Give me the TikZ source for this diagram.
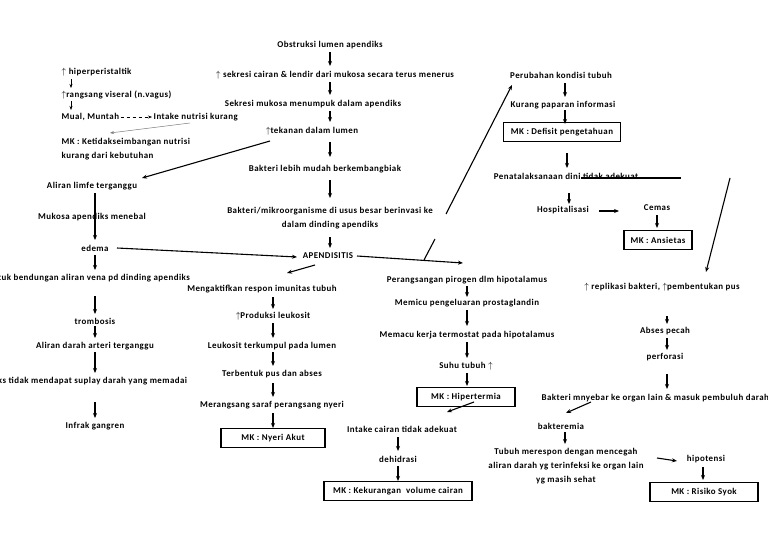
\documentclass[tikz,border=0pt]{standalone}
\usepackage{fontspec}
\setmainfont{Carlito}[LetterSpace=5]
\usetikzlibrary{arrows.meta}
\begin{document}
\begin{tikzpicture}[x=1pt,y=-1pt,
  every node/.style={font=\fontsize{8.9}{14}\selectfont\bfseries, inner sep=1.5pt, align=center},
  box/.style={draw, line width=1.3pt, minimum height=19pt, inner sep=3pt},
  ar/.style={-{Stealth[length=5pt,width=4pt]}, line width=1.1pt},
  thin/.style={-{Stealth[length=4pt,width=3pt]}, line width=0.5pt}]
\useasboundingbox (0,0) rectangle (768,543);
\clip (0,0) rectangle (768,543);
% left top
\node[anchor=west] (h1) at (60,72) {$\uparrow$ hiperperistaltik};
\node[anchor=west] (h2) at (60,95) {$\uparrow$rangsang viseral (n.vagus)};
\node[anchor=west] (h3) at (60,117) {Mual, Muntah};
\node[anchor=west] (h4) at (152,117) {Intake nutrisi kurang};
\node[anchor=west, align=left] (h5) at (60,149) {MK : Ketidakseimbangan nutrisi\\kurang dari kebutuhan};
\draw[thin] (71,79) -- (71,88);
\draw[thin] (71,101) -- (71,110);
\draw[thin, dashed] (h3) -- (h4);
\draw[thin, gray] (190,123) -- (110,133);
% center
\node (c1) at (330,45) {Obstruksi lumen apendiks};
\node (c2) at (335,75) {$\uparrow$ sekresi cairan \& lendir dari mukosa secara terus menerus};
\node (c3) at (313,104) {Sekresi mukosa menumpuk dalam apendiks};
\node (c4) at (312,131) {$\uparrow$tekanan dalam lumen};
\node (c5) at (325,169) {Bakteri lebih mudah berkembangbiak};
\node (c6) at (330,218) {Bakteri/mikroorganisme di usus besar berinvasi ke\\dalam dinding apendiks};
\node (c7) at (328,256) {APENDISITIS};
\draw[ar] (330,52) -- (330,66);
\draw[ar] (330,82) -- (330,95);
\draw[ar] (330,111) -- (330,122);
\draw[ar] (330,142) -- (330,157);
\draw[ar] (330,180) -- (330,198);
\draw[ar] (330,237) -- (330,248);
% left column
\node (l1) at (92,186) {Aliran limfe terganggu};
\node (l2) at (92,217) {Mukosa apendiks menebal};
\node (l3) at (95,248) {edema};
\node (l4) at (80,278) {Terbentuk bendungan aliran vena pd dinding apendiks};
\node (l5) at (95,321) {trombosis};
\node (l6) at (95,346) {Aliran darah arteri terganggu};
\node (l7) at (78,381) {Apendiks tidak mendapat suplay darah yang memadai};
\node (l8) at (95,426) {Infrak gangren};
\draw[ar] (270,141) -- (142,178);
\draw[ar] (95,193) -- (95,240);
\draw[ar] (95,255) -- (95,270);
\draw[ar] (95,296) -- (95,314);
\draw[ar] (95,326) -- (95,338);
\draw[ar] (95,352) -- (95,373);
\draw[ar] (95,402) -- (95,418);
\draw[ar] (117,248) -- (297,257);
% middle-left
\node (m1) at (262,289) {Mengaktifkan respon imunitas tubuh};
\node (m2) at (273,316) {$\uparrow$Produksi leukosit};
\node (m3) at (272,346) {Leukosit terkumpul pada lumen};
\node (m4) at (272,374) {Terbentuk pus dan abses};
\node (m5) at (272,405) {Merangsang saraf perangsang nyeri};
\node[box, minimum width=104pt] (m6) at (273,438) {MK : Nyeri Akut};
\draw[ar] (315,265) -- (287,273);
\draw[ar] (273,297) -- (273,309);
\draw[ar] (273,323) -- (273,338);
\draw[ar] (273,352) -- (273,366);
\draw[ar] (273,383) -- (273,397);
\draw[ar] (273,413) -- (273,428);
% middle
\node (p1) at (467,280) {Perangsangan pirogen dlm hipotalamus};
\node (p2) at (467,303) {Memicu pengeluaran prostaglandin};
\node (p3) at (467,335) {Memacu kerja termostat pada hipotalamus};
\node (p4) at (466,366) {Suhu tubuh $\uparrow$};
\node[box, minimum width=98pt] (p5) at (466,397) {MK : Hipertermia};
\node (p6) at (402,429) {Intake cairan tidak adekuat};
\node (p7) at (398,459) {dehidrasi};
\node[box, minimum width=148pt] (p8) at (398,491) {MK : Kekurangan\ \ volume cairan};
\draw[ar] (357,256) -- (463,263);
\draw[line width=1.1pt] (435,239) -- (424,260);
\draw[ar] (467,286) -- (467,297);
\draw[ar] (467,310) -- (467,326);
\draw[ar] (467,342) -- (467,358);
\draw[ar] (467,373) -- (467,386);
\draw[ar] (474,402) -- (447,412);
\draw[ar] (398,437) -- (398,451);
\draw[ar] (398,466) -- (398,481);
% right
\node (r1) at (561,75) {Perubahan kondisi tubuh};
\node (r2) at (563,105) {Kurang paparan informasi};
\node[box, minimum width=117pt] (r3) at (562,132) {MK : Defisit pengetahuan};
\node (r4) at (566,176) {Penatalaksanaan dini tidak adekuat};
\node (r5) at (563,210) {Hospitalisasi};
\node (r6) at (657,208) {Cemas};
\node[box, minimum width=68pt] (r7) at (658,240) {MK : Ansietas};
\node (r8) at (662,287) {$\uparrow$ replikasi bakteri, $\uparrow$pembentukan pus};
\node (r9) at (665,331) {Abses pecah};
\node (r10) at (665,357) {perforasi};
\node[anchor=west] (r11) at (540,398) {Bakteri mnyebar ke organ lain \& masuk pembuluh darah};
\node (r12) at (561,426) {bakteremia};
\node (r13) at (566,466) {Tubuh merespon dengan mencegah\\aliran darah yg terinfeksi ke organ lain\\yg masih sehat};
\node (r14) at (706,459) {hipotensi};
\node[box, minimum width=108pt] (r15) at (704,492) {MK : Risiko Syok};
\draw[ar] (446,214) -- (512,85);
\draw[ar] (565,83) -- (565,97);
\draw[ar] (565,110) -- (565,124);
\draw[ar] (567,153) -- (567,168);
\draw[line width=1.1pt] (581,178) -- (681,178);
\draw[ar] (569,193) -- (569,204);
\draw[ar] (599,211) -- (619,211);
\draw[ar] (657,215) -- (657,228);
\draw[ar] (730,178) -- (706,272);
\draw[ar] (667,316) -- (667,324);
\draw[ar] (667,338) -- (667,350);
\draw[ar] (667,374) -- (667,389);
\draw[ar] (591,402) -- (566,413);
\draw[ar] (565,432) -- (565,444);
\draw[ar] (657,458) -- (677,461);
\draw[ar] (703,467) -- (703,480);
\end{tikzpicture}
\end{document}
